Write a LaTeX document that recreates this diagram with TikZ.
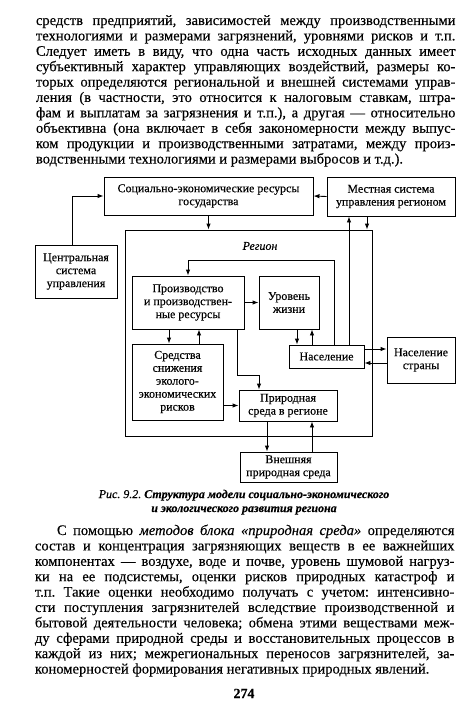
\documentclass[tikz,border=0pt]{standalone}
\usepackage{fontspec}
\setmainfont{Liberation Serif}[FakeBold=0.3]
\usetikzlibrary{positioning, arrows.meta}
\tolerance=10000
\hbadness=10000
\hyphenpenalty=10000
\exhyphenpenalty=10000
\lineskiplimit=-50pt
\lineskip=0pt
\frenchspacing

\begin{document}
\begin{tikzpicture}[x=1bp, y=-1bp, line width=0.9bp,
      blk/.style={draw, align=center, inner sep=1bp, font=\fontsize{12}{13}\selectfont},
      para/.style={anchor=base west, inner sep=0pt, text width=419.5bp, align=justify,
        font=\fontsize{14.6}{15.45}\selectfont}]

      \useasboundingbox (0,0) rectangle (474,718);

      % text above the figure
      \node[para] (toptext) at (35.5,25) {средств предприятий, зависимостей между производственными\linebreak
        технологиями и размерами загрязнений, уровнями рисков и т.п.\linebreak
        Следует иметь в виду, что одна часть исходных данных имеет\linebreak
        субъективный характер управляющих воздействий, размеры ко-\linebreak
        торых определяются региональной и внешней системами управ-\linebreak
        ления (в частности, это относится к налоговым ставкам, штра-\linebreak
        фам и выплатам за загрязнения и т.п.), а другая — относительно\linebreak
        объективна (она включает в себя закономерности между выпус-\linebreak
        ком продукции и производственными затратами, между произ-\linebreak
        водственными технологиями и размерами выбросов и т.д.).};

      \node[blk, minimum width=209bp, minimum height=38bp] (soc) at (208.5,196) {Социально-экономические ресурсы\\государства};
      \node[blk, minimum width=128bp, minimum height=39bp] (mest) at (391,196.5) {Местная система\\управления регионом};
      \node[blk, minimum width=82bp, minimum height=53bp] (centr) at (76,271.5) {Центральная\\система\\управления};

      \node[draw, minimum width=247bp, minimum height=206bp] (region) at (248.5,333) {}; %
      \node[font=\fontsize{12}{13}\selectfont\itshape] (regname) at (260,246) {Регион};

      \node[blk, minimum width=112bp, minimum height=53bp] (proizv) at (188,302.5) {Производство\\и производствен-\\ные ресурсы};
      \node[blk, minimum width=60bp, minimum height=53bp] (uroven) at (289,302.5) {Уровень\\жизни};
      \node[blk, minimum width=75bp, minimum height=23bp] (nasel) at (326.5,356.5) {Население};
      \node[blk, minimum width=68bp, minimum height=46bp] (nasstr) at (421,360) {Население\\страны};
      \node[blk, minimum width=91bp, minimum height=76bp] (sredstva) at (177.5,382) {Средства\\снижения\\эколого-\\экономических\\рисков};
      \node[blk, minimum width=98bp, minimum height=31bp] (prirod) at (288,405.5) {Природная\\среда в регионе};
      \node[blk, minimum width=97bp, minimum height=30bp] (vneshn) at (288.5,467) {Внешняя\\природная среда};

      \draw[-{Latex[width=4.5bp, length=6bp]}] ([xshift=-4bp]centr.north) |- (soc.west);
      \draw[-{Latex[width=4.5bp, length=6bp]}] (mest.west) -- (soc.east);
      \draw[-{Latex[width=4.5bp, length=6bp]}] (soc.south) -- (soc.south |- region.north);
      \draw[-{Latex[width=4.5bp, length=6bp]}] ([xshift=-24bp]mest.south) -- ([xshift=-24bp]mest.south |- region.north);
      \draw[-{Latex[width=4.5bp, length=6bp]}] ([xshift=22.5bp]nasel.north) -- ([xshift=22.5bp]nasel.north |- mest.south);
      \draw[-{Latex[width=4.5bp, length=6bp]}] ([xshift=7.5bp]nasel.north) -- ++(0,-84) -| (proizv.north);

      \draw[-{Latex[width=4.5bp, length=6bp]}] (proizv.east) -- (proizv.east -| uroven.west);
      \draw[-{Latex[width=4.5bp, length=6bp]}] ([xshift=8bp]uroven.south) -- ([xshift=8bp]uroven.south |- nasel.north);
      \draw[-{Latex[width=4.5bp, length=6bp]}] ([xshift=23bp]uroven.south |- nasel.north) -- ([xshift=23bp]uroven.south);
      \draw[-{Latex[width=4.5bp, length=6bp]}] ([yshift=7.5bp]nasel.east) -- ([yshift=7.5bp]nasel.east -| nasstr.west);
      \draw[-{Latex[width=4.5bp, length=6bp]}] ([yshift=-6.5bp]nasel.east -| nasstr.west) -- ([yshift=-6.5bp]nasel.east);

      \draw[-{Latex[width=4.5bp, length=6bp]}] ([xshift=-19bp]proizv.south) -- ([xshift=-19bp]proizv.south |- sredstva.north);
      \draw[-{Latex[width=4.5bp, length=6bp]}] ([xshift=11bp]proizv.south |- sredstva.north) -- ([xshift=11bp]proizv.south);
      \draw[-{Latex[width=4.5bp, length=6bp]}] ([xshift=49bp]proizv.south) -- ++(0,46) -| ([xshift=-29bp]prirod.north);
      \draw[-{Latex[width=4.5bp, length=6bp]}] (prirod.west -| sredstva.east) -- (prirod.west);
      \draw[-{Latex[width=4.5bp, length=6bp]}] ([xshift=-21bp]prirod.south) -- ([xshift=-21bp]prirod.south |- vneshn.north);
      \draw[-{Latex[width=4.5bp, length=6bp]}] ([xshift=24bp]prirod.south |- vneshn.north) -- ([xshift=24bp]prirod.south);

      \node[font=\fontsize{12}{14}\selectfont\itshape, align=center, anchor=base] (caption) at (244,512) {Рис. 9.2. \textbf{Структура модели социально-экономического}\\\textbf{и экологического развития региона}};

      % text below the figure
      \node[para] (bottext) at (34.5,535) {\hspace*{22bp}С помощью \textit{методов блока «природная среда»} определяются\linebreak
        состав и концентрация загрязняющих веществ в ее важнейших\linebreak
        компонентах — воздухе, воде и почве, уровень шумовой нагруз-\linebreak
        ки на ее подсистемы, оценки рисков природных катастроф и\linebreak
        т.п. Такие оценки необходимо получать с учетом: интенсивно-\linebreak
        сти поступления загрязнителей вследствие производственной и\linebreak
        бытовой деятельности человека; обмена этими веществами меж-\linebreak
        ду сферами природной среды и восстановительных процессов в\linebreak
        каждой из них; межрегиональных переносов загрязнителей, за-\linebreak
        кономерностей формирования негативных природных явлений.};

      \node[font=\fontsize{14}{16}\selectfont\bfseries, anchor=base] (pagenum) at (244,698) {274};
\end{tikzpicture}
\end{document}
